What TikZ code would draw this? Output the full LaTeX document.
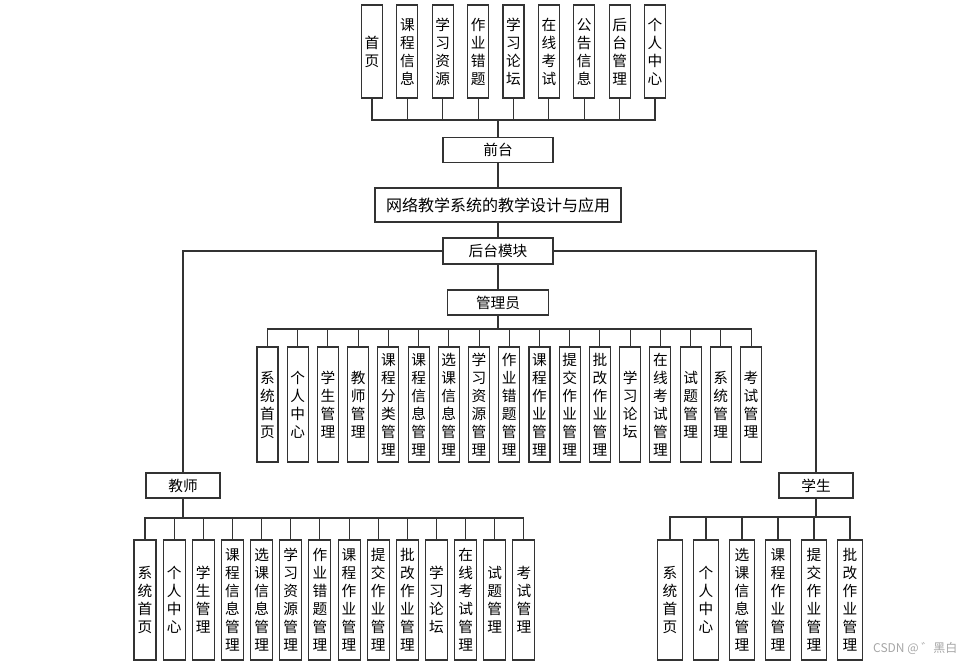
\documentclass[tikz,border=0pt]{standalone}
\usepackage{fontspec}
\setmainfont{Noto Sans CJK SC}
\usepackage{tikz}
\usepackage{xcolor}

\tikzset{
  line/.style={draw=black!80, line width=0.8pt},
  box/.style={draw=black!80, line width=0.8pt, fill=white, inner sep=1pt,
    font=\fontsize{11}{13.5}\selectfont},
  vbox/.style={box, align=center, minimum width=#1},
  hbox/.style={box, minimum width=#1, minimum height=18.75pt},
}

\begin{document}
\begin{tikzpicture}[x=0.75pt,y=-0.75pt]
    % Canvas
    \useasboundingbox (0,0) rectangle (969,664);
    % Front end
    \foreach \name [count=\i] in {首\\页, 课\\程\\信\\息, 学\\习\\资\\源, 作\\业\\错\\题,
        学\\习\\论\\坛, 在\\线\\考\\试, 公\\告\\信\\息, 后\\台\\管\\理, 个\\人\\中\\心}
      \node[vbox=15.75pt, minimum height=69.75pt] (t\i) at ({372+35.375*(\i-1)},51.5) {\name};
    \node[hbox=82.5pt] (qt) at (498,150) {前台};
    \coordinate (topbus) at (498,120);
    \draw[line] (qt.north) -- (topbus);
    \foreach \i in {1,...,9}
      \draw[line] (topbus) -| (t\i.south);
    % Root and back end
    \node[box, minimum width=184.5pt, minimum height=25.5pt,
      font=\fontsize{12}{14}\selectfont] (sys) at (498,205) {网络教学系统的教学设计与应用};
    \node[hbox=82.5pt, minimum height=19.5pt] (hm) at (498,251) {后台模块};
    \draw[line] (qt.south) -- (sys.north);
    \draw[line] (sys.south) -- (hm.north);
    \node[hbox=75.75pt] (gly) at (498,302.5) {管理员};
    \node[hbox=55.5pt] (js) at (183,485.5) {教师};
    \node[hbox=55.5pt] (xs) at (816,485.5) {学生};
    \draw[line] (hm.south) -- (gly.north);
    \draw[line] (hm.west) -| (js.north);
    \draw[line] (hm.east) -| (xs.north);
    % Administrator
    \coordinate (abus) at (498,329);
    \draw[line] (gly.south) -- (abus);
    \foreach \name [count=\i] in {系\\统\\首\\页, 个\\人\\中\\心, 学\\生\\管\\理, 教\\师\\管\\理,
        课\\程\\分\\类\\管\\理, 课\\程\\信\\息\\管\\理, 选\\课\\信\\息\\管\\理, 学\\习\\资\\源\\管\\理,
        作\\业\\错\\题\\管\\理, 课\\程\\作\\业\\管\\理, 提\\交\\作\\业\\管\\理, 批\\改\\作\\业\\管\\理,
        学\\习\\论\\坛, 在\\线\\考\\试\\管\\理, 试\\题\\管\\理, 系\\统\\管\\理, 考\\试\\管\\理}
    {
      \node[vbox=15.75pt, minimum height=86.25pt] (a\i) at ({267.5+30.22*(\i-1)},404.5) {\name};
      \draw[line] (abus) -| (a\i.north);
    }
    % Teacher
    \coordinate (jbus) at (183,518);
    \draw[line] (js.south) -- (jbus);
    \foreach \name [count=\i] in {系\\统\\首\\页, 个\\人\\中\\心, 学\\生\\管\\理,
        课\\程\\信\\息\\管\\理, 选\\课\\信\\息\\管\\理, 学\\习\\资\\源\\管\\理,
        作\\业\\错\\题\\管\\理, 课\\程\\作\\业\\管\\理, 提\\交\\作\\业\\管\\理, 批\\改\\作\\业\\管\\理,
        学\\习\\论\\坛, 在\\线\\考\\试\\管\\理, 试\\题\\管\\理, 考\\试\\管\\理}
    {
      \node[vbox=16.5pt, minimum height=90pt] (j\i) at ({145+29.15*(\i-1)},600) {\name};
      \draw[line] (jbus) -| (j\i.north);
    }
    % Student
    \coordinate (xbus) at (816,517);
    \draw[line] (xs.south) -- (xbus);
    \foreach \name [count=\i] in {系\\统\\首\\页, 个\\人\\中\\心, 选\\课\\信\\息\\管\\理,
        课\\程\\作\\业\\管\\理, 提\\交\\作\\业\\管\\理, 批\\改\\作\\业\\管\\理}
    {
      \node[vbox=18.75pt, minimum height=90pt] (x\i) at ({670+36*(\i-1)},600) {\name};
      \draw[line] (xbus) -| (x\i.north);
    }
    % Watermark
    \node[text=black!35, font=\fontsize{9}{10}\selectfont, anchor=east] (wm) at (962,648) {CSDN @ ゛黑白};
\end{tikzpicture}
\end{document}
